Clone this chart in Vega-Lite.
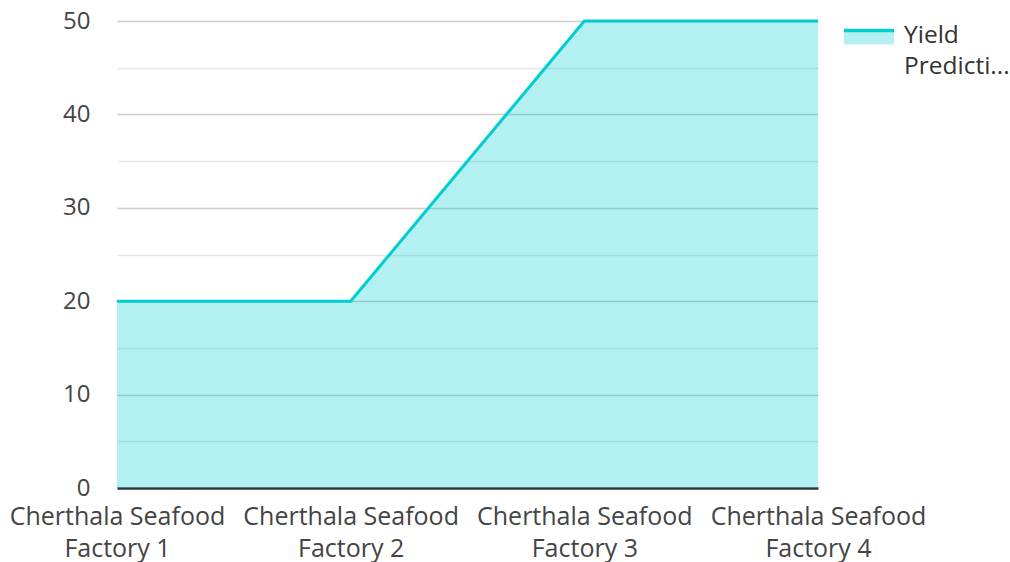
{
  "$schema": "https://vega.github.io/schema/vega-lite/v6.json",
  "width": 701,
  "height": 467,
  "autosize": {"type": "none"},
  "padding": {"left": 117, "top": 21, "right": 192, "bottom": 74},
  "config": {"font": "Open Sans", "view": {"stroke": null}},
  "data": {
    "values": [
      {"factory": "Cherthala Seafood Factory 1", "value": 20, "series": "Yield Predicti..."},
      {"factory": "Cherthala Seafood Factory 2", "value": 20, "series": "Yield Predicti..."},
      {"factory": "Cherthala Seafood Factory 3", "value": 50, "series": "Yield Predicti..."},
      {"factory": "Cherthala Seafood Factory 4", "value": 50, "series": "Yield Predicti..."}
    ]
  },
  "encoding": {
    "x": {
      "field": "factory",
      "type": "ordinal",
      "scale": {"type": "point", "padding": 0},
      "axis": {
        "title": null,
        "labelAngle": 0,
        "labelExpr": "[slice(datum.label, 0, 17), slice(datum.label, 18)]",
        "labelFontSize": 25,
        "labelColor": "#444444",
        "labelLineHeight": 32,
        "labelBaseline": "top",
        "labelPadding": 16,
        "labelLimit": 0,
        "labelOverlap": false,
        "labelBound": false,
        "labelFlush": false,
        "ticks": false,
        "grid": false,
        "domainColor": "#333333",
        "domainWidth": 2.5
      }
    }
  },
  "layer": [
    {
      "mark": {"type": "area", "fillOpacity": 0.3},
      "encoding": {
        "y": {
          "field": "value",
          "type": "quantitative",
          "scale": {"domain": [0, 50], "nice": false},
          "axis": {
            "title": null,
            "values": [0, 10, 20, 30, 40, 50],
            "grid": true,
            "gridColor": "#cccccc",
            "gridWidth": 1.5,
            "domain": false,
            "ticks": false,
            "labelFontSize": 24,
            "labelColor": "#444444",
            "labelPadding": 27,
            "labelFlush": false
          }
        },
        "fill": {
          "field": "series",
          "type": "nominal",
          "scale": {"range": ["#00CED1"]},
          "legend": {
            "title": null,
            "orient": "right",
            "offset": 24,
            "padding": 0,
            "symbolType": "M-1,-0.7H1V-0.14H-1Z",
            "symbolSize": 2500,
            "labelExpr": "split(datum.label, ' ')",
            "labelFontSize": 24.5,
            "labelLimit": 0,
            "labelColor": "#333333",
            "labelOffset": 8,
            "labelBaseline": "middle",
            "encode": {
              "symbols": {
                "update": {
                  "fill": {"value": "#00CED1"},
                  "fillOpacity": {"value": 0.3},
                  "opacity": {"value": 1},
                  "stroke": {"value": "#00CED1"},
                  "strokeOpacity": {"value": 1},
                  "strokeWidth": {"value": 3.5},
                  "strokeDash": {"value": [50, 300]}
                }
              },
              "labels": {"update": {"lineHeight": {"value": 31}, "dy": {"value": -12}}}
            }
          }
        }
      }
    },
    {
      "mark": {"type": "line", "color": "#00CED1", "strokeWidth": 3},
      "encoding": {
        "y": {
          "field": "value",
          "type": "quantitative",
          "axis": {
            "title": null,
            "orient": "left",
            "values": [5, 15, 25, 35, 45],
            "grid": true,
            "gridColor": "#e6e6e6",
            "gridWidth": 1.5,
            "domain": false,
            "ticks": false,
            "labels": false
          }
        }
      }
    }
  ],
  "resolve": {"axis": {"y": "independent"}}
}
